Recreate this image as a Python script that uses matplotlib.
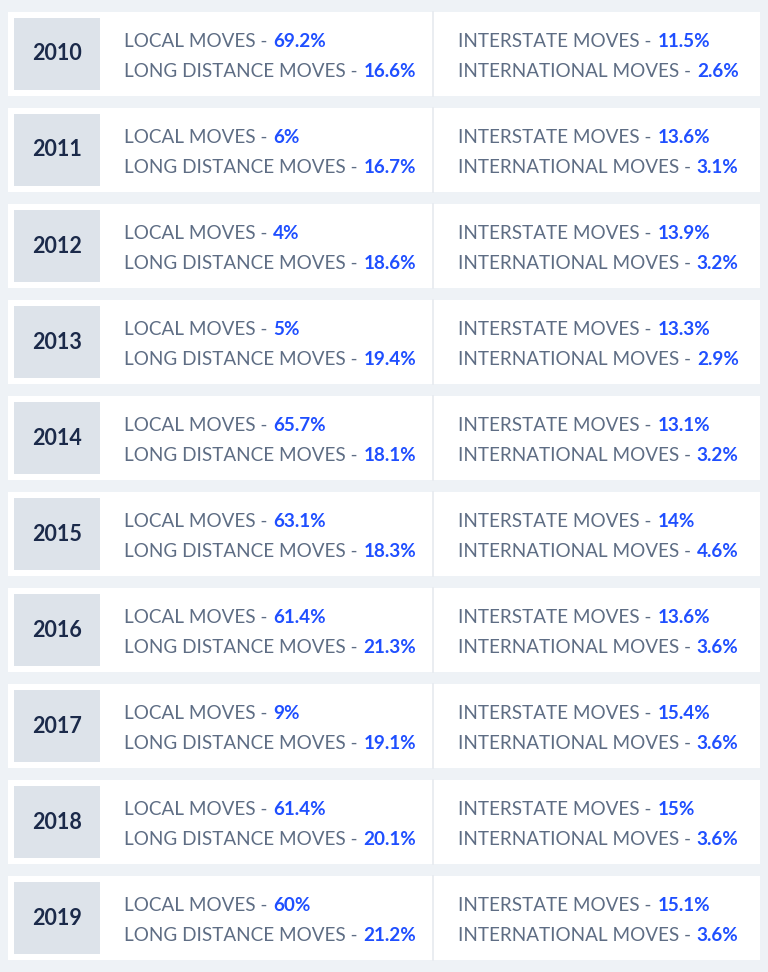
import matplotlib
matplotlib.use("Agg")
import matplotlib.pyplot as plt
from matplotlib.patches import Rectangle

years = ["2010","2011","2012","2013","2014","2015","2016","2017","2018","2019"]
local = ["69.2%","6%","4%","5%","65.7%","63.1%","61.4%","9%","61.4%","60%"]
long_distance = ["16.6%","16.7%","18.6%","19.4%","18.1%","18.3%","21.3%","19.1%","20.1%","21.2%"]
interstate = ["11.5%","13.6%","13.9%","13.3%","13.1%","14%","13.6%","15.4%","15%","15.1%"]
international = ["2.6%","3.1%","3.2%","2.9%","3.2%","4.6%","3.6%","3.6%","3.6%","3.6%"]

BG = "#eef2f6"; BOX = "#dde3ea"; LAB = "#5e6d84"; VAL = "#1f4fff"; YR = "#1b2a4a"
fig = plt.figure(figsize=(7.68, 9.72), dpi=100, facecolor=BG)
ax = fig.add_axes([0, 0, 1, 1])
ax.set_xlim(0, 768); ax.set_ylim(972, 0); ax.axis("off")
fig.canvas.draw()
r = fig.canvas.get_renderer()

def pair(x, y, label, value):
    t = ax.text(x, y, label, fontsize=13.6, family="Lato", weight="normal", color=LAB, va="baseline")
    bb = t.get_window_extent(renderer=r)
    x2 = ax.transData.inverted().transform((bb.x1, bb.y0))[0]
    ax.text(x2 + 1, y, value, fontsize=13.6, family="Lato", weight="bold", color=VAL, va="baseline")

for i, yv in enumerate(years):
    top = 12 + 96 * i
    ax.add_patch(Rectangle((8, top), 752, 84, facecolor="white", edgecolor="none"))
    ax.plot([433, 433], [top, top + 84], color="#e6eaef", lw=1.2)
    ax.add_patch(Rectangle((14, top + 6), 86, 72, facecolor=BOX, edgecolor="none"))
    ax.text(57, top + 42, yv, fontsize=15.5, family="Lato", weight="bold", color=YR, ha="center", va="center")
    pair(124, top + 35, "LOCAL MOVES - ", local[i])
    pair(124, top + 65, "LONG DISTANCE MOVES - ", long_distance[i])
    pair(458, top + 35, "INTERSTATE MOVES - ", interstate[i])
    pair(458, top + 65, "INTERNATIONAL MOVES - ", international[i])

fig.savefig("out.png", dpi=100, facecolor=BG)
